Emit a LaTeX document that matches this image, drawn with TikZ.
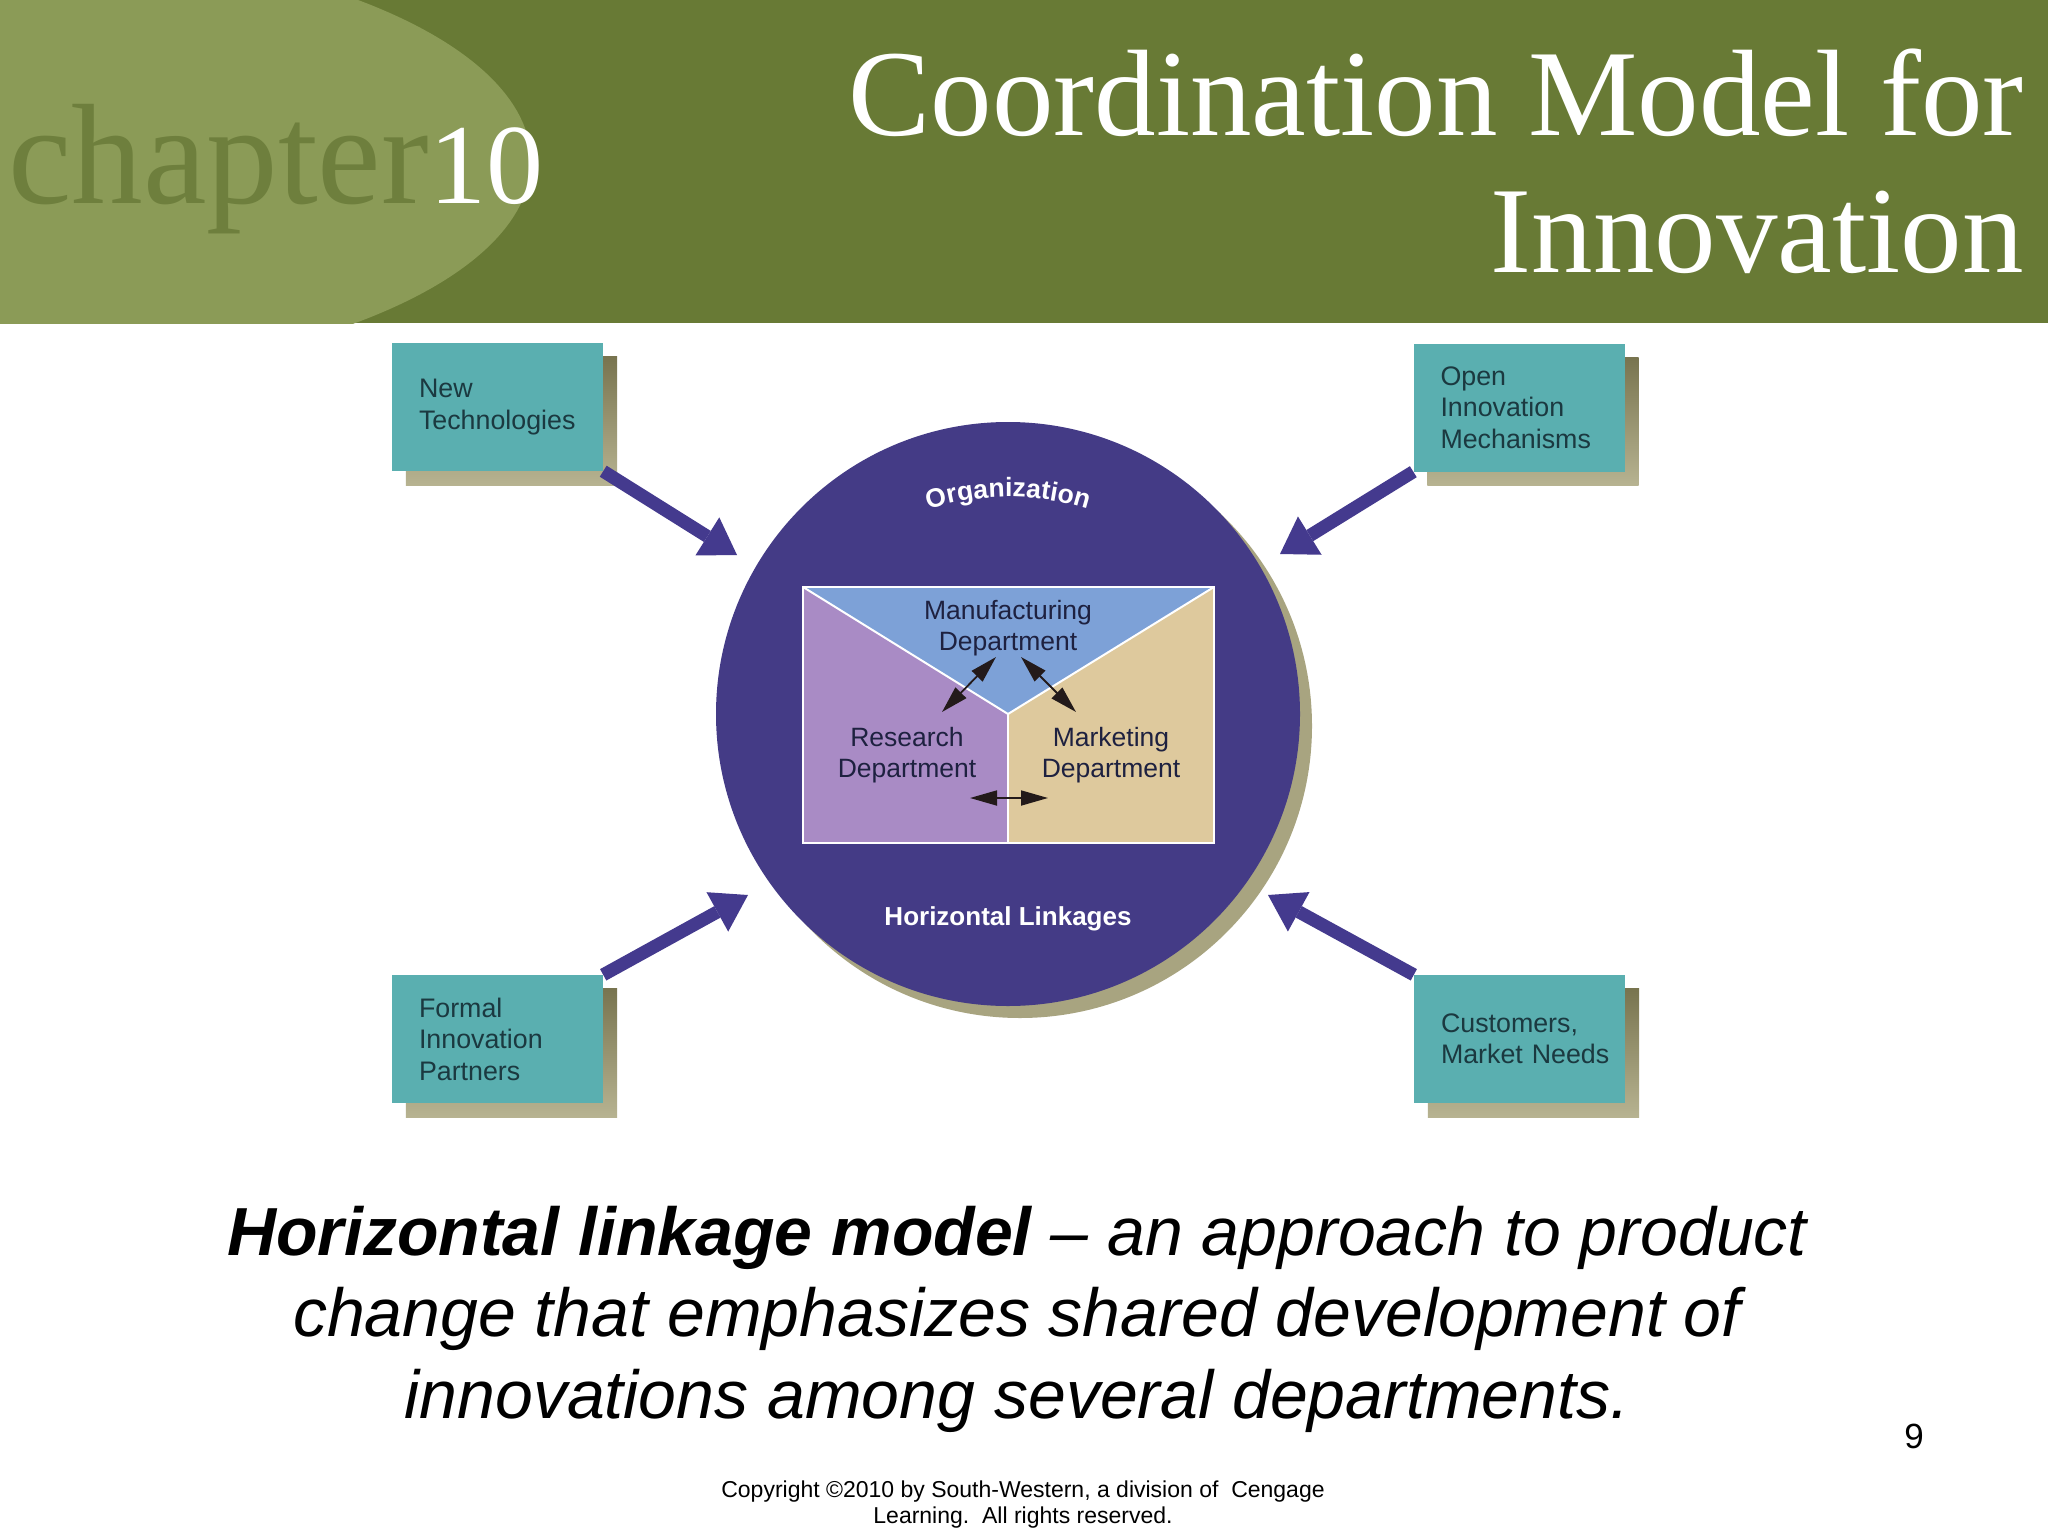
\documentclass[tikz,border=0pt]{standalone}
\usepackage{xcolor}
\usepackage{fontspec}
\setmainfont{Liberation Serif}
\setsansfont{Liberation Sans}
\usepackage{tikz}
\usetikzlibrary{arrows.meta,backgrounds,decorations.text}
\pgfdeclarelayer{bottom}
\pgfsetlayers{bottom,background,main}

\definecolor{oliveband}{HTML}{687A35}
\definecolor{olivelight}{HTML}{8B9B57}
\definecolor{olivetext}{HTML}{6E7F3D}
\definecolor{tealbox}{HTML}{5AAFB0}
\definecolor{boxtext}{HTML}{1B3940}
\definecolor{shadowtop}{HTML}{78744F}
\definecolor{shadowbot}{HTML}{B7B391}
\definecolor{orgblue}{HTML}{443B86}
\definecolor{orgshadow}{HTML}{A8A480}
\definecolor{arrowblue}{HTML}{443A8E}
\definecolor{mfgblue}{HTML}{7DA1D7}
\definecolor{respurple}{HTML}{A98BC5}
\definecolor{mkttan}{HTML}{DEC99D}
\definecolor{depttext}{HTML}{1E2140}
\definecolor{arrowblack}{HTML}{231A1A}

\tikzset{>=stealth,
  factor/.style={fill=tealbox,text=boxtext,font=\sffamily\fontsize{26.8}{31.5}\selectfont,
    text width=157pt,inner xsep=27pt,inner ysep=0pt,minimum height=128pt,align=left},
  boxshadow/.style={top color=shadowtop,bottom color=shadowbot},
  bigarrow/.style={draw=arrowblue,line width=13pt,-{Triangle[length=35pt,width=45pt,line width=0pt]}},
  deptarrow/.style={draw=arrowblack,line width=1.8pt,
    {Triangle[length=27pt,width=15pt]}-{Triangle[length=27pt,width=15pt]}},
  dept/.style={text=depttext,font=\sffamily\fontsize{26.5}{30.5}\selectfont,align=center,inner sep=0pt},
  orgcircle/.style={circle,fill=orgblue,minimum size=584pt,inner sep=0pt},
  chaptext/.style={font=\fontsize{143}{143}\selectfont,inner sep=0pt},
  titletext/.style={text=white,font=\fontsize{123}{137}\selectfont,align=right,inner sep=0pt}
}

\begin{document}
\begin{tikzpicture}[x=1pt,y=-1pt]
    \begin{pgfonlayer}{bottom}
      \fill[white] (0,0) rectangle (2048,1536);
    \end{pgfonlayer}
    \useasboundingbox (0,0) rectangle (2048,1536);

    % header
    \fill[oliveband] (0,0) rectangle (2048,323);
    \begin{scope}
      \clip (0,0) rectangle (2048,323);
      \fill[olivelight] (0,161) ellipse (531 and 218);
    \end{scope}
    \node[chaptext,text=olivetext,anchor=base west] (chap) at (8,203) {chapter};
    \node[chaptext,text=white,font=\fontsize{114}{114}\selectfont,anchor=base west] (chapnum) at (chap.base east) {10};
    \node[titletext,anchor=base east] (title) at (2024,272) {Coordination Model for\\Innovation};

    % organization
    \node[orgcircle] (org) at (1008,714) {};
    \fill[mfgblue] (803,587) -- (1214,587) -- (org.center) -- cycle;
    \fill[respurple] (803,587) -- (org.center) -- (1008,843) -- (803,843) -- cycle;
    \fill[mkttan] (1214,587) -- (1214,843) -- (1008,843) -- (org.center) -- cycle;
    \draw[white,line width=2pt] (803,587) -- (org.center) -- (1214,587);
    \draw[white,line width=2pt] (org.center) -- (1008,843);
    \draw[white,line width=2.5pt] (803,587) rectangle (1214,843);

    \path[decorate,decoration={text along path,text align=center,
      text={|\sffamily\bfseries\fontsize{26.5}{26.5}\selectfont\color{white}|Organization}}]
      (1008,762) ++(220:265) arc (220:320:265);
    \node[text=white,font=\sffamily\bfseries\fontsize{26}{26}\selectfont,anchor=base,inner sep=0pt] (links) at (1008,925) {Horizontal Linkages};

    \node[dept,anchor=base] (mfg) at (1008,650) {Manufacturing\\Department};
    \node[dept,anchor=base] (res) at (907,777) {Research\\Department};
    \node[dept,anchor=base] (mkt) at (1111,777) {Marketing\\Department};

    \coordinate (mfgL) at (996,657);
    \coordinate (mfgR) at (1021,657);
    \coordinate (resT) at (942,712);
    \coordinate (mktT) at (1076,712);
    \coordinate (resB) at (970,798);
    \coordinate (mktB) at (1048,798);
    \draw[deptarrow] (mfgL) -- (resT);
    \draw[deptarrow] (mfgR) -- (mktT);
    \draw[deptarrow] (resB) -- (mktB);

    % outside factors
    \node[factor] (tech) at (497.5,407) {New\\Technologies};
    \node[factor] (open) at (1519,407.5) {Open\\Innovation\\Mechanisms};
    \node[factor] (formal) at (497.5,1039) {Formal\\Innovation\\Partners};
    \node[factor] (cust) at (1519.5,1039) {Customers,\\Market~Needs};

    \coordinate (techTip) at (737,555);
    \coordinate (openTip) at (1280,554);
    \coordinate (formalTip) at (748,895);
    \coordinate (custTip) at (1268,895);

    \begin{pgfonlayer}{background}
      \fill[orgshadow] ([shift={(12,12)}]org.center) circle (292);
      \foreach \f in {tech,open,formal,cust}
        \shade[boxshadow] ([shift={(14,14)}]\f.north west) rectangle ([shift={(14,14)}]\f.south east);
      \draw[bigarrow] (tech.south east) -- (techTip);
      \draw[bigarrow] (open.south west) -- (openTip);
      \draw[bigarrow] (formal.north east) -- (formalTip);
      \draw[bigarrow] (cust.north west) -- (custTip);
    \end{pgfonlayer}

    % caption
    \node[font=\sffamily\itshape\fontsize{68}{81.5}\selectfont,align=center,anchor=base,inner sep=0pt] (caption) at (1017,1418)
      {\textbf{Horizontal linkage model} – an approach to product\\change that emphasizes shared development of\\innovations among several departments.};
    \node[font=\sffamily\fontsize{35}{35}\selectfont,anchor=base,inner sep=0pt] (pagenum) at (1914,1448) {9};
    \node[font=\sffamily\fontsize{23}{26}\selectfont,align=center,anchor=base,inner sep=0pt] (copy) at (1023,1523)
      {Copyright ©2010 by South-Western, a division of\ \ Cengage\\Learning.\ \ All rights reserved.};
\end{tikzpicture}
\end{document}
